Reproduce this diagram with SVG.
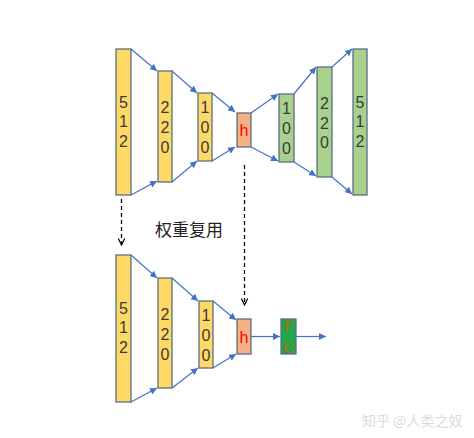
<svg xmlns="http://www.w3.org/2000/svg" width="474" height="438" viewBox="0 0 474 438">
<defs>
<marker id="ab" viewBox="0 0 10 10" refX="10" refY="5" markerWidth="7" markerHeight="7" markerUnits="userSpaceOnUse" orient="auto">
<path d="M0,0 L10,5 L0,10 Z" fill="#4472C4"/>
</marker>
<marker id="ad" viewBox="0 0 10 10" refX="9" refY="5" markerWidth="8" markerHeight="8" markerUnits="userSpaceOnUse" orient="auto">
<path d="M1,1 L9,5 L1,9" fill="none" stroke="#000" stroke-width="1.5"/>
</marker>
<style>
.y{fill:#FFD966;stroke:#5B6E86;stroke-width:1.3}
.g{fill:#A9D18E;stroke:#5B6E86;stroke-width:1.3}
.hb{fill:#F4B183;stroke:#5B6E86;stroke-width:1.3}
.fc{fill:#1FA84A;stroke:#5B6E86;stroke-width:1.3}
.t{font-family:"Liberation Sans",Arial,sans-serif;font-size:16px;fill:#3A3A3A;text-anchor:middle}
.th{font-family:"Liberation Sans",Arial,sans-serif;font-size:16px;fill:#FF0000;text-anchor:middle}
.tf{font-family:"Liberation Sans",Arial,sans-serif;font-size:15px;fill:#C55A11;text-anchor:middle}
.c{stroke:#4472C4;stroke-width:1.2;fill:none;marker-end:url(#ab)}
.d{stroke:#000;stroke-width:1.3;stroke-dasharray:4 3;fill:none;marker-end:url(#ad)}
</style>
</defs>
<rect width="474" height="438" fill="#fff"/>
<g id="connectors">
<line class="c" x1="131" y1="49" x2="157" y2="71"/>
<line class="c" x1="131" y1="195" x2="157" y2="181"/>
<line class="c" x1="172" y1="71" x2="197" y2="93"/>
<line class="c" x1="172" y1="182" x2="197" y2="161"/>
<line class="c" x1="212" y1="93" x2="235" y2="112"/>
<line class="c" x1="212" y1="161" x2="235" y2="147"/>
<line class="c" x1="251" y1="113" x2="278" y2="94"/>
<line class="c" x1="251" y1="147" x2="278" y2="161"/>
<line class="c" x1="294" y1="94" x2="316" y2="67"/>
<line class="c" x1="294" y1="162" x2="316" y2="176"/>
<line class="c" x1="332" y1="67" x2="352" y2="49"/>
<line class="c" x1="332" y1="177" x2="352" y2="194"/>
<line class="c" x1="131" y1="255" x2="157" y2="278"/>
<line class="c" x1="131" y1="402" x2="157" y2="388"/>
<line class="c" x1="172" y1="278" x2="198" y2="301"/>
<line class="c" x1="172" y1="388" x2="198" y2="368"/>
<line class="c" x1="213" y1="301" x2="236" y2="320"/>
<line class="c" x1="213" y1="368" x2="236" y2="354"/>
<line class="c" x1="251" y1="336.5" x2="280" y2="336.5"/>
<line class="c" x1="296" y1="336.5" x2="326" y2="336.5"/>
<line class="d" x1="121.5" y1="199" x2="121.5" y2="245"/>
<line class="d" x1="244.5" y1="165" x2="244.5" y2="305"/>
</g>
<g id="enc512"><rect class="y" x="116" y="49" width="15" height="146"/><text class="t"><tspan x="123.5" y="107.5">5</tspan><tspan x="123.5" y="127.3">1</tspan><tspan x="123.5" y="147">2</tspan></text></g>
<g id="enc220"><rect class="y" x="158" y="71" width="14" height="111"/><text class="t"><tspan x="165" y="113">2</tspan><tspan x="165" y="133">2</tspan><tspan x="165" y="153">0</tspan></text></g>
<g id="enc100"><rect class="y" x="198" y="93" width="14" height="68"/><text class="t"><tspan x="205" y="113">1</tspan><tspan x="205" y="133">0</tspan><tspan x="205" y="153">0</tspan></text></g>
<g id="h1"><rect class="hb" x="237" y="113" width="14" height="34"/><text class="th" x="244" y="136">h</text></g>
<g id="dec100"><rect class="g" x="279" y="94" width="15" height="68"/><text class="t"><tspan x="286.5" y="114">1</tspan><tspan x="286.5" y="134">0</tspan><tspan x="286.5" y="154">0</tspan></text></g>
<g id="dec220"><rect class="g" x="317" y="67" width="15" height="110"/><text class="t"><tspan x="324.5" y="109">2</tspan><tspan x="324.5" y="128.5">2</tspan><tspan x="324.5" y="148">0</tspan></text></g>
<g id="dec512"><rect class="g" x="353" y="49" width="14" height="146"/><text class="t"><tspan x="360" y="107.5">5</tspan><tspan x="360" y="127.3">1</tspan><tspan x="360" y="147">2</tspan></text></g>
<g id="label"><text x="155" y="236" font-family="'Noto Sans CJK SC',sans-serif" font-size="17" fill="#222">权重复用</text></g>
<g id="b512"><rect class="y" x="116" y="255" width="15" height="147"/><text class="t"><tspan x="123.5" y="313.5">5</tspan><tspan x="123.5" y="333.3">1</tspan><tspan x="123.5" y="353">2</tspan></text></g>
<g id="b220"><rect class="y" x="158" y="278" width="14" height="110"/><text class="t"><tspan x="165" y="319.5">2</tspan><tspan x="165" y="339.5">2</tspan><tspan x="165" y="359.5">0</tspan></text></g>
<g id="b100"><rect class="y" x="199" y="301" width="14" height="67"/><text class="t"><tspan x="206" y="320.5">1</tspan><tspan x="206" y="340.5">0</tspan><tspan x="206" y="360.5">0</tspan></text></g>
<g id="h2"><rect class="hb" x="237" y="319" width="14" height="35"/><text class="th" x="244" y="342.5">h</text></g>
<g id="fcnode"><rect class="fc" x="281" y="319" width="15" height="35"/><text class="tf"><tspan x="288.5" y="330.5">F</tspan><tspan x="288.5" y="353">C</tspan></text></g>
<g id="watermark"><text x="362" y="426" font-family="'Noto Sans CJK SC',sans-serif" font-size="14" fill="#DCDCDC">知乎 @人类之奴</text></g>
</svg>
